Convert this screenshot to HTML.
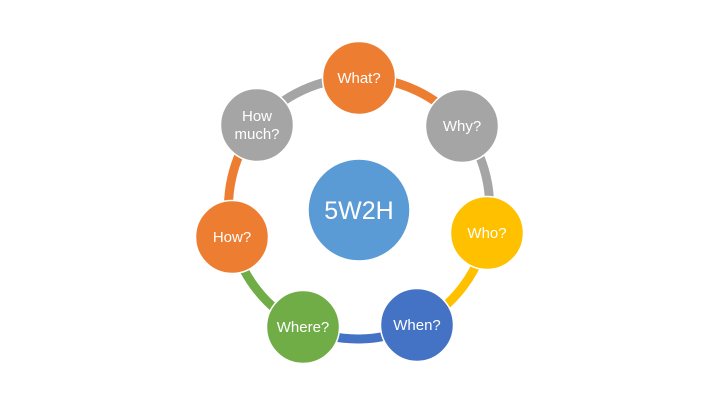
<!DOCTYPE html>
<html><head><meta charset="utf-8"><style>
html,body{margin:0;padding:0;background:#fff;width:720px;height:404px;overflow:hidden}
text{font-family:"Liberation Sans",sans-serif;fill:#fff;text-anchor:middle}
</style></head><body>
<svg width="720" height="404" viewBox="0 0 720 404" xmlns="http://www.w3.org/2000/svg">
<g fill="none" stroke-width="9">
<path d="M359 78 A132 132 0 0 1 462 126" stroke="#ED7D31"/>
<path d="M462 126 A132 132 0 0 1 487 233" stroke="#A5A5A5"/>
<path d="M487 233 A132 132 0 0 1 417 325" stroke="#FFC000"/>
<path d="M417 325 A132 132 0 0 1 303 327" stroke="#4472C4"/>
<path d="M303 327 A132 132 0 0 1 232 237" stroke="#70AD47"/>
<path d="M232 237 A132 132 0 0 1 257 125" stroke="#ED7D31"/>
<path d="M257 125 A132 132 0 0 1 359 78" stroke="#A5A5A5"/>
</g>
<g stroke="#fff" stroke-width="1.5">
<circle cx="359" cy="210" r="51" fill="#5B9BD5"/>
<circle cx="359" cy="78" r="36.5" fill="#ED7D31"/>
<circle cx="462" cy="126" r="36.5" fill="#A5A5A5"/>
<circle cx="487" cy="233" r="36.5" fill="#FFC000"/>
<circle cx="417" cy="325" r="36.5" fill="#4472C4"/>
<circle cx="303" cy="327" r="36.5" fill="#70AD47"/>
<circle cx="232" cy="237" r="36.5" fill="#ED7D31"/>
<circle cx="257" cy="125" r="36.5" fill="#A5A5A5"/>
</g>
<text x="359" y="219" font-size="25">5W2H</text>
<text x="359" y="83" font-size="15">What?</text>
<text x="462" y="131" font-size="15">Why?</text>
<text x="487" y="238" font-size="15">Who?</text>
<text x="417" y="330" font-size="15">When?</text>
<text x="303" y="332" font-size="15">Where?</text>
<text x="232" y="242" font-size="15">How?</text>
<text x="257" y="121" font-size="15">How</text>
<text x="257" y="139" font-size="15">much?</text>
</svg>
</body></html>
